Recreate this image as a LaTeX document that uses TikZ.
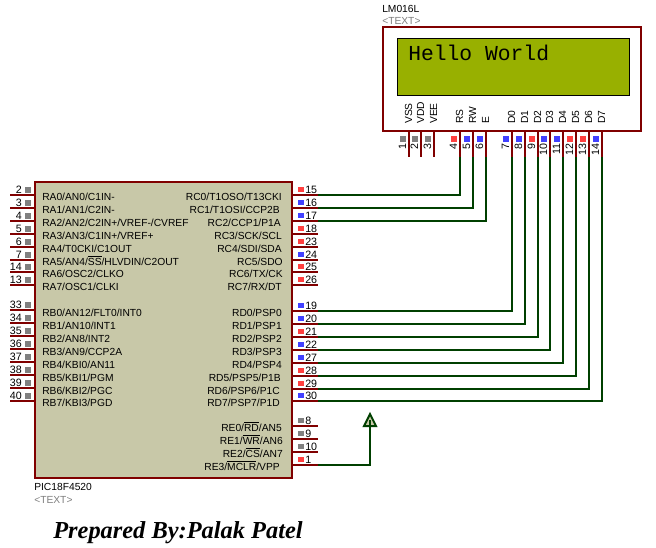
\documentclass[tikz,border=0pt]{standalone}
\usepackage{fontspec}
\setmainfont{Liberation Sans}
\newfontfamily\lcdfont{Liberation Mono}
\newfontfamily\signfont{Liberation Serif}
\usetikzlibrary{calc}
\def\px{0.75pt}
\definecolor{pinred}{RGB}{128,0,0}
\definecolor{wiregreen}{RGB}{0,64,0}
\definecolor{icfill}{RGB}{200,200,168}
\definecolor{lcdfill}{RGB}{152,176,0}
\definecolor{r}{RGB}{255,64,64}
\definecolor{b}{RGB}{64,64,255}
\definecolor{g}{RGB}{128,128,128}
\definecolor{tmpl}{RGB}{128,128,128}
\newcommand{\ovl}[1]{\ensuremath{\overline{\mbox{#1}}}}
\tikzset{
  pinline/.style={draw=pinred,line width=1.5pt},
  wire/.style={draw=wiregreen,line width=1.5pt},
  body/.style={draw=pinred,line width=2pt,inner sep=0pt,outer sep=0pt},
  txt/.style={inner sep=0pt,font=\fontsize{7.7pt}{9pt}\selectfont,text=black},
  numtxt/.style={txt,font=\fontsize{8pt}{9pt}\selectfont},
}
\begin{document}
\begin{tikzpicture}[x=0.75pt,y=-0.75pt]
\useasboundingbox (0,0) rectangle (656,547);
\fill[white] (0,0) rectangle (656,547);

% bodies
\node[body,fill=icfill,anchor=north west,minimum width=257*\px,minimum height=296*\px] (ic) at (35,182) {};
\node[body,fill=white,anchor=north west,minimum width=258*\px,minimum height=104*\px] (lcd) at (383,27) {};
\node[draw=black,line width=0.75pt,fill=lcdfill,inner sep=0pt,outer sep=0pt,anchor=north west,minimum width=232*\px,minimum height=57*\px] (screen) at (397,38) {};
\node[inner sep=0pt,anchor=base west,font=\lcdfont\fontsize{16pt}{18pt}\selectfont] (hello) at (408,60) {Hello World};

% titles
\node[txt,anchor=base west] (lcdname) at (382,12) {LM016L};
\node[txt,anchor=base west,text=tmpl] (lcdtext) at (382,24) {<TEXT>};
\node[txt,anchor=base west] (icname) at (34,490) {PIC18F4520};
\node[txt,anchor=base west,text=tmpl] (ictext) at (34,503) {<TEXT>};
\node[inner sep=0pt,anchor=base west,font=\signfont\bfseries\itshape\fontsize{18.3pt}{20pt}\selectfont] (sign) at (53,538) {Prepared By:Palak Patel};

% left pins
\foreach \n/\y in {2/195,3/208,4/221,5/234,6/247,7/260,14/272,13/285,33/310,34/323,35/336,36/349,37/362,38/375,39/388,40/401}{
  \coordinate (La\n) at (35,\y);
  \coordinate (Lb\n) at (10,\y);
  \draw[pinline] (La\n) -- (Lb\n);
  \fill[g] ($(La\n)+(-10,-8)$) rectangle +(5.5,5.5);
  \node[numtxt,anchor=base east] (Ln\n) at ($(La\n)+(-13,-2)$) {\n};
}
% right pins
\foreach \n/\y/\c in {15/195/r,16/208/b,17/221/b,18/234/r,23/247/r,24/260/b,25/272/r,26/285/r,19/311/b,20/324/b,21/337/r,22/350/b,27/363/b,28/376/r,29/389/r,30/401/b,8/426/g,9/439/g,10/452/g,1/465/r}{
  \coordinate (Ra\n) at (292,\y);
  \coordinate (Rb\n) at (318,\y);
  \draw[pinline] (Ra\n) -- (Rb\n);
  \fill[\c] ($(Ra\n)+(6,-8.5)$) rectangle +(5.5,5.5);
  \node[numtxt,anchor=base west] (Rn\n) at ($(Ra\n)+(13,-2)$) {\n};
}
% LCD pins
\foreach \n/\x/\c in {1/409/g,2/421/g,3/434/g,4/460/r,5/473/b,6/486/b,7/512/b,8/525/b,9/538/r,10/550/b,11/563/b,12/576/r,13/589/r,14/602/b}{
  \coordinate (Ta\n) at (\x,131);
  \coordinate (Tb\n) at (\x,157);
  \draw[pinline] (Ta\n) -- (Tb\n);
  \fill[\c] ($(Ta\n)+(-9,5)$) rectangle +(5.5,5.5);
  \node[numtxt,rotate=90,anchor=base east] (Tn\n) at ($(Ta\n)+(-3,12)$) {\n};
}
% left labels
\foreach \i/\y/\t in {
 a/200/RA0\slash AN0\slash C1IN-,b/213/RA1\slash AN1\slash C2IN-,c/226/RA2\slash AN2\slash C2IN+\slash VREF-\slash CVREF,
 d/239/RA3\slash AN3\slash C1IN+\slash VREF+,e/252/RA4\slash T0CKI\slash C1OUT,f/265/RA5\slash AN4\slash \ovl{SS}\slash HLVDIN\slash C2OUT,
 g/277/RA6\slash OSC2\slash CLKO,h/290/RA7\slash OSC1\slash CLKI,
 i/316/RB0\slash AN12\slash FLT0\slash INT0,j/329/RB1\slash AN10\slash INT1,k/342/RB2\slash AN8\slash INT2,l/355/RB3\slash AN9\slash CCP2A,
 m/368/RB4\slash KBI0\slash AN11,n/381/RB5\slash KBI1\slash PGM,o/394/RB6\slash KBI2\slash PGC,p/406/RB7\slash KBI3\slash PGD}{
  \node[txt,anchor=base west] (ll\i) at (42,\y) {\t};
}
% right labels
\foreach \i/\x/\y/\t in {
 a/282/200/RC0\slash T1OSO\slash T13CKI,b/280/213/RC1\slash T1OSI\slash CCP2B,c/281/226/RC2\slash CCP1\slash P1A,d/282/239/RC3\slash SCK\slash SCL,
 e/282/252/RC4\slash SDI\slash SDA,f/283/265/RC5\slash SDO,g/283/277/RC6\slash TX\slash CK,h/282/290/RC7\slash RX\slash DT,
 i/282/316/RD0\slash PSP0,j/282/329/RD1\slash PSP1,k/282/342/RD2\slash PSP2,l/282/355/RD3\slash PSP3,m/282/368/RD4\slash PSP4,
 n/281/381/RD5\slash PSP5\slash P1B,o/280/394/RD6\slash PSP6\slash P1C,p/280/406/RD7\slash PSP7\slash P1D,
 q/282/431/RE0\slash \ovl{RD}\slash AN5,r/283/444/RE1\slash \ovl{WR}\slash AN6,s/283/457/RE2\slash \ovl{CS}\slash AN7,t/280/470/RE3\slash \ovl{MCLR}\slash VPP}{
  \node[txt,anchor=base east] (rl\i) at (\x,\y) {\t};
}
% LCD labels
\foreach \n/\t in {1/VSS,2/VDD,3/VEE,4/RS,5/RW,6/E,7/D0,8/D1,9/D2,10/D3,11/D4,12/D5,13/D6,14/D7}{
  \node[txt,rotate=90,anchor=base west] (Tl\n) at ($(Ta\n)+(3,-7)$) {\t};
}
% wires
\foreach \a/\b in {15/4,16/5,17/6,19/7,20/8,21/9,22/10,27/11,28/12,29/13,30/14}{
  \draw[wire] (Rb\a) -| (Tb\b);
}
% power terminal
\coordinate (vcc) at (370,426);
\draw[wire,line join=miter,fill=icfill] (364,426) -- (370,414) -- (376,426) -- cycle;
\draw[wire] (Rb1) -| (vcc) -- ++(0,-6);
\end{tikzpicture}
\end{document}
